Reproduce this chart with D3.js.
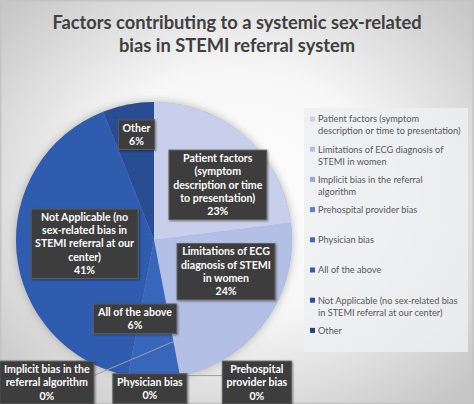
<!DOCTYPE html>
<html>
<head>
<meta charset="utf-8"/>
<script src="https://d3js.org/d3.v7.min.js"></script>
<style>
	body { margin: 0; background: #fff; }
	svg { display: block; font-family: Lato, "Open Sans", sans-serif; }
</style>
</head>
<body>
<div id="chart"></div>
<script>
// data
var categories = [
	"Patient factors (symptom description or time to presentation)",
	"Limitations of ECG diagnosis of STEMI in women",
	"Implicit bias in the referral algorithm",
	"Prehospital provider bias",
	"Physician bias",
	"All of the above",
	"Not Applicable (no sex-related bias in STEMI referral at our center)",
	"Other"
];
var values = [23, 24, 0, 0, 0, 6, 41, 6];
var titleLines = ["Factors contributing to a systemic sex-related", "bias in STEMI referral system"];
// wrapped text as it appears in the legend and in the data labels
var legendLines = [
	["Patient factors (symptom", "description or time to presentation)"],
	["Limitations of ECG diagnosis of", "STEMI in women"],
	["Implicit bias in the referral", "algorithm"],
	["Prehospital provider bias"],
	["Physician bias"],
	["All of the above"],
	["Not Applicable (no sex-related bias", "in STEMI referral at our center)"],
	["Other"]
];
var labelLines = [
	["Patient factors", "(symptom", "description or time", "to presentation)"],
	["Limitations of ECG", "diagnosis of STEMI", "in women"],
	["Implicit bias in the", "referral algorithm"],
	["Prehospital", "provider bias"],
	["Physician bias"],
	["All of the above"],
	["Not Applicable (no", "sex-related bias in", "STEMI referral at our", "center)"],
	["Other"]
];
var colors = ["#c7cfea", "#b3bfe4", "#93a5da", "#6a88cf", "#4a70c2", "#3866ba", "#2f5cae", "#294d92"];
var legendColors = ["#c9d0e6", "#b4bfe1", "#96a6d8", "#5f7fc8", "#4268b8", "#3459a9", "#2c4f98", "#243f7e"];

// label placement (radius factor of anchor, then shift in px)
var labelRadius = [0.6, 0.6, 1, 1, 1, 0.6, 0.6, 0.6];
var labelShift = [[9, 7], [5, -17], [-133, 7], [77, 7], [-30, 13], [-19, -4], [13, -4], [-2, -24]];
var leaderRadius = [null, null, 0.75, 1.0, null, null, null, null];

var W = 474, H = 404;
var cx = 154, cy = 240, R = 138;

var svg = d3.select('#chart').append('svg')
	.attr('width', W).attr('height', H);
var defs = svg.append('defs');

var bg = defs.append('radialGradient').attr('id', 'bg')
	.attr('cx', '50%').attr('cy', '48%').attr('r', '68%');
bg.append('stop').attr('offset', '0%').attr('stop-color', '#ffffff');
bg.append('stop').attr('offset', '45%').attr('stop-color', '#f7f7f7');
bg.append('stop').attr('offset', '100%').attr('stop-color', '#c6c6c6');

var glow = defs.append('filter').attr('id', 'glow')
	.attr('x', '-20%').attr('y', '-20%').attr('width', '140%').attr('height', '140%');
glow.append('feDropShadow').attr('dx', 0).attr('dy', 0)
	.attr('stdDeviation', 5).attr('flood-color', '#7a7a7a').attr('flood-opacity', 0.55);

var shadow = defs.append('filter').attr('id', 'shadow')
	.attr('x', '-20%').attr('y', '-20%').attr('width', '140%').attr('height', '140%');
shadow.append('feDropShadow').attr('dx', 1).attr('dy', 1)
	.attr('stdDeviation', 1.2).attr('flood-color', '#000').attr('flood-opacity', 0.45);

svg.append('rect').attr('width', W).attr('height', H).attr('fill', 'url(#bg)');
svg.append('rect').attr('x', 0.5).attr('y', 0.5).attr('width', W - 1).attr('height', H - 1)
	.attr('fill', 'none').attr('stroke', '#c4c4c4').attr('stroke-width', 2);

// title
svg.append('g').selectAll('text').data(titleLines).join('text')
	.attr('x', 237).attr('y', (d, i) => 29 + i * 23)
	.attr('text-anchor', 'middle')
	.style('font-size', '18.3px').style('font-weight', 'bold').style('fill', '#404040')
	.text(d => d);

// pie
var total = d3.sum(values);
var pie = d3.pie().sort(null).value(d => d);
var arcs = pie(values);
var arc = d3.arc().innerRadius(0).outerRadius(R);

var g = svg.append('g').attr('transform', `translate(${cx},${cy})`);
g.append('circle').attr('r', R).attr('fill', '#9aa8d8').attr('filter', 'url(#glow)');
g.selectAll('path').data(arcs).join('path')
	.attr('d', arc)
	.attr('fill', (d, i) => colors[i]);

function polar(a, r) {
	return [Math.sin(a) * r, -Math.cos(a) * r];
}

// data labels
var lineH = 13.3;
var labels = svg.append('g');
arcs.forEach(function(d, i) {
	var mid = (d.startAngle + d.endAngle) / 2;
	var p = polar(mid, R * labelRadius[i]);
	var x = cx + p[0] + labelShift[i][0];
	var y = cy + p[1] + labelShift[i][1];
	var lines = labelLines[i].concat([Math.round(d.value / total * 100) + '%']);

	var lg = labels.append('g');
	var t = lg.append('text')
		.attr('text-anchor', 'middle')
		.style('font-size', '10.6px').style('font-weight', 'bold').style('fill', '#ffffff');
	t.selectAll('tspan').data(lines).join('tspan')
		.attr('x', x)
		.attr('y', (s, j) => y + (j - (lines.length - 1) / 2) * lineH + 3.7)
		.text(s => s);
	var bb = t.node().getBBox();
	var bw = bb.width + 8, bh = lines.length * lineH + 3;

	if (leaderRadius[i] != null) {
		var q = polar(d.startAngle, R * leaderRadius[i]);
		var sx = q[0] + cx < x ? x - bw / 2 : x + bw / 2;
		labels.insert('line', ':first-child')
			.attr('x1', sx).attr('y1', y - 7)
			.attr('x2', cx + q[0]).attr('y2', cy + q[1])
			.attr('stroke', '#a0a0a0').attr('stroke-width', 1);
	}

	lg.insert('rect', 'text')
		.attr('x', x - bw / 2).attr('y', y - bh / 2)
		.attr('width', bw).attr('height', bh)
		.attr('fill', '#3d3d3d').attr('stroke', '#5e5e5e').attr('stroke-width', 1)
		.attr('filter', 'url(#shadow)');
});

// legend
var legend = svg.append('g');
legend.append('rect').attr('x', 304).attr('y', 108).attr('width', 164).attr('height', 244)
	.attr('fill', '#eceef1').attr('opacity', 0.85);
categories.forEach(function(c, i) {
	var y = 119 + i * 30.2;
	legend.append('rect').attr('x', 310).attr('y', y - 2.5).attr('width', 5).attr('height', 5)
		.attr('fill', legendColors[i]);
	legend.append('text')
		.style('font-size', '9.2px').style('fill', '#595959')
		.selectAll('tspan').data(legendLines[i]).join('tspan')
		.attr('x', 318).attr('y', (s, j) => y + 3.3 + j * 12)
		.text(s => s);
});
</script>
</body>
</html>
